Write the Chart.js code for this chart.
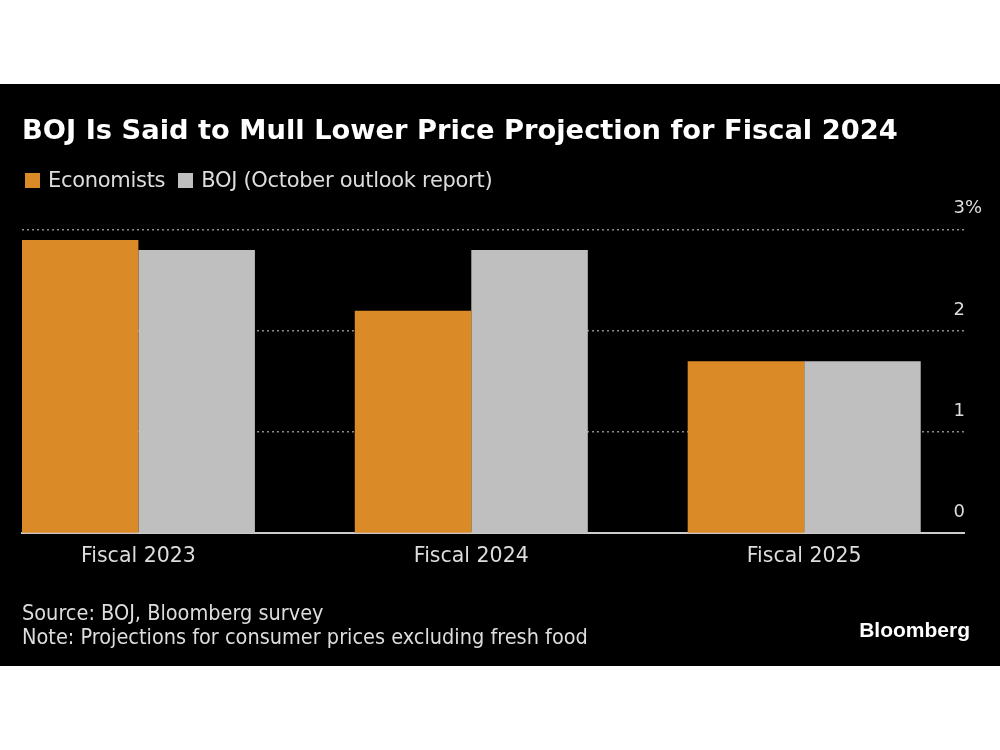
<!DOCTYPE html>
<html lang="en">
<head>
<meta charset="UTF-8">
<title>BOJ Is Said to Mull Lower Price Projection for Fiscal 2024</title>
<script src="https://cdn.jsdelivr.net/npm/chart.js"></script>
<style>
  body { margin: 0; background: #fff; width: 1000px; height: 750px; overflow: hidden; }
  .panel { position: absolute; left: 0; top: 84px; width: 1000px; height: 582px; background: #000; }
  #chart { position: absolute; left: 0; top: 0; }
  .legend { position: absolute; left: 25px; top: 83px; display: flex; font: 21px 'DejaVu Sans'; letter-spacing: -0.3px; color: #ddd; line-height: 26px; }
  .legend span.item { display: flex; align-items: center; margin-right: 13px; }
  .legend span.box { width: 15px; height: 15px; margin-right: 8px; }
  .brand { position: absolute; right: 30px; top: 534px; font: bold 21px 'Liberation Sans'; color: #fff; }
</style>
</head>
<body>
<div class="panel">
  <canvas id="chart" width="1000" height="582"></canvas>
  <div class="legend" id="legend"></div>
  <div class="brand">Bloomberg</div>
</div>

<script>
const categories = ['Fiscal 2023', 'Fiscal 2024', 'Fiscal 2025'];
const economists = [2.9, 2.2, 1.7];
const bojOutlook = [2.8, 2.8, 1.7];
const seriesNames = ['Economists', 'BOJ (October outlook report)'];
const seriesColors = ['#da8a27', '#bfbfbf'];
const yTicks = [0, 1, 2, 3];

const title = 'BOJ Is Said to Mull Lower Price Projection for Fiscal 2024';
const notes = ['Source: BOJ, Bloomberg survey', 'Note: Projections for consumer prices excluding fresh food'];

const toPoints = vals => vals.map((v, i) => ({ x: i, y: v }));

const datasets = [economists, bojOutlook].map((vals, i) => ({
    label: seriesNames[i],
    data: toPoints(vals),
    backgroundColor: seriesColors[i],
    borderWidth: 0,
    categoryPercentage: 0.7,
    barPercentage: 1.0
}));

// legend in html
const legend = document.getElementById('legend');
datasets.forEach(ds => {
    const item = document.createElement('span');
    item.className = 'item';
    item.innerHTML = `<span class="box" style="background:${ds.backgroundColor}"></span>${ds.label}`;
    legend.appendChild(item);
});

new Chart(document.getElementById('chart'), {
    type: 'bar',
    data: { datasets: datasets },
    options: {
        responsive: false,
        animation: false,
        layout: { padding: { left: 22, right: 0, top: 0, bottom: 0 } },
        plugins: {
            legend: { display: false },
            tooltip: { enabled: false },
            title: {
                display: true,
                text: title,
                align: 'start',
                color: '#fff',
                font: { family: 'DejaVu Sans', size: 27.3, weight: 'bold' },
                padding: { top: 32, bottom: 81 }
            },
            subtitle: {
                display: true,
                position: 'bottom',
                text: notes,
                align: 'start',
                color: '#ddd',
                font: { family: 'DejaVu Sans Condensed', size: 21.5, lineHeight: 1.116 },
                padding: { top: 22, bottom: 16 }
            }
        },
        scales: {
            x: {
                type: 'linear',
                offset: false,
                min: -0.3496,
                max: 2.48,
                bounds: 'data',
                afterBuildTicks: scale => { scale.ticks = categories.map((c, i) => ({ value: i })); },
                ticks: {
                    color: '#ddd',
                    font: { family: 'DejaVu Sans', size: 20.5 },
                    padding: 11,
                    callback: v => categories[v]
                },
                grid: { display: false, drawTicks: false },
                border: { display: true, color: '#cccccc', width: 2 }
            },
            y: {
                position: 'right',
                min: 0,
                max: 3,
                afterBuildTicks: scale => { scale.ticks = yTicks.map(v => ({ value: v })); },
                ticks: {
                    mirror: true,
                    crossAlign: 'far',
                    padding: 18,
                    labelOffset: -21,
                    color: '#ddd',
                    font: { family: 'DejaVu Sans', size: 18 },
                    callback: v => v === yTicks[yTicks.length - 1] ? v + '%' : v
                },
                grid: {
                    drawTicks: false,
                    color: ctx => ctx.tick && ctx.tick.value === 0 ? 'rgba(0,0,0,0)' : '#8c8c8c',
                    lineWidth: 1.5
                },
                border: { display: false, dash: [2, 3] }
            }
        }
    }
});
</script>
</body>
</html>
